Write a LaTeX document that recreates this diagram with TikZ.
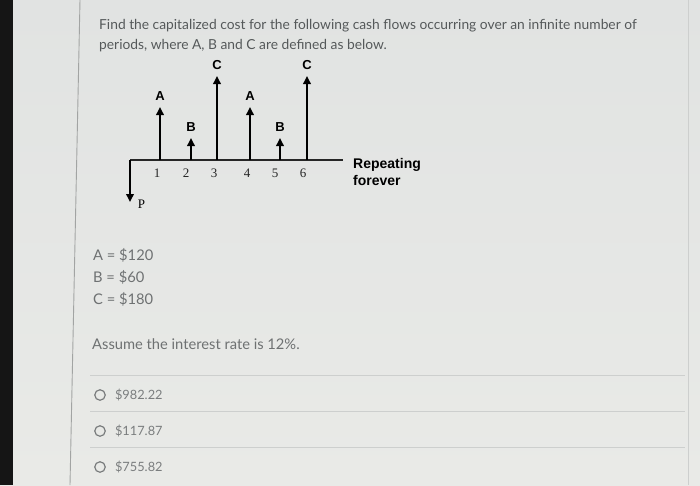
\documentclass[tikz,border=0pt]{standalone}
\usepackage{fontspec}
\setmainfont{Lato}
\newfontfamily\diagfont{Liberation Sans}
\newfontfamily\numfont{Liberation Serif}
\usetikzlibrary{arrows.meta,positioning}

\definecolor{screenbg}{HTML}{E1E3E2}
\definecolor{screenlow}{HTML}{E9EAE7}
\definecolor{bezel}{HTML}{151515}
\definecolor{divider}{HTML}{A2A4A3}
\definecolor{qgrey}{HTML}{55595A}
\definecolor{vargrey}{HTML}{6E7172}
\definecolor{optgrey}{HTML}{7A7D7E}
\definecolor{rulegrey}{HTML}{CDCFCE}

\begin{document}
\begin{tikzpicture}[x=1pt,y=-1pt,
	qtext/.style={anchor=base west,inner sep=0pt,text=qgrey,font=\fontsize{13.8}{16}\selectfont},
	vartext/.style={anchor=base west,inner sep=0pt,text=vargrey,font=\fontsize{14.7}{16}\selectfont},
	flow/.style={-{Triangle[length=8pt,width=7.5pt]},line width=1.8pt},
	letter/.style={font=\diagfont\bfseries\fontsize{13}{13}\selectfont,inner sep=1pt},
	period/.style={font=\numfont\fontsize{13}{13}\selectfont,text=black!85,inner sep=0pt},
	radio/.style={circle,draw=optgrey,line width=1.2pt,minimum size=10.5pt,inner sep=0pt},
	answer/.style={anchor=west,inner sep=0pt,text=optgrey,font=\fontsize{12.8}{14}\selectfont},
	rule/.style={draw=rulegrey,line width=1pt}]

	\useasboundingbox (0,0) rectangle (700,485);
	\shade[top color=screenbg,bottom color=screenlow] (0,0) rectangle (700,485);
	\fill[bezel] (0,0) rectangle (13,485);
	\draw[divider,line width=0.9pt] (80,0) -- (70,485);
	\draw[rulegrey,line width=0.8pt] (688,0) -- (688,485);

	% question
	\node[qtext] (line1) at (99,29) {Find the capitalized cost for the following cash flows occurring over an infinite number of};
	\node[qtext] (line2) at (99,49) {periods, where A, B and C are defined as below.};

	% cash flow diagram
	\coordinate (origin) at (130,160);
	\coordinate (axisend) at (343,160);
	\coordinate (tipP) at (130,202);
	\draw[line width=1.6pt,black!85] (origin) -- (axisend);
	\draw[flow] (origin) -- (tipP);
	\node[font=\numfont\fontsize{13}{13}\selectfont,inner sep=0pt] (P) at (141.5,204.5) {P};

	\coordinate (f1) at (160,160); \coordinate (t1) at (160,107);
	\coordinate (f2) at (191,160); \coordinate (t2) at (191,138);
	\coordinate (f3) at (217,160); \coordinate (t3) at (217,76);
	\coordinate (f4) at (250,160); \coordinate (t4) at (250,107);
	\coordinate (f5) at (280,160); \coordinate (t5) at (280,138);
	\coordinate (f6) at (307,160); \coordinate (t6) at (307,76);

	\draw[flow] (f1) -- (t1);
	\draw[flow] (f2) -- (t2);
	\draw[flow] (f3) -- (t3);
	\draw[flow] (f4) -- (t4);
	\draw[flow] (f5) -- (t5);
	\draw[flow] (f6) -- (t6);

	\node[letter, above = 5pt of t1] (A1) {A};
	\node[letter, above = 5pt of t2] (B1) {B};
	\node[letter, above = 5pt of t3] (C1) {C};
	\node[letter, above = 5pt of t4] (A2) {A};
	\node[letter, above = 5pt of t5] (B2) {B};
	\node[letter, above = 5pt of t6] (C2) {C};

	\node[period] (n1) at (157,173) {1};
	\node[period] (n2) at (186,173) {2};
	\node[period] (n3) at (214,173) {3};
	\node[period] (n4) at (247,173) {4};
	\node[period] (n5) at (275,173) {5};
	\node[period] (n6) at (303,173) {6};

	\node[anchor=west,align=left,inner sep=0pt,font=\diagfont\bfseries\fontsize{14}{17}\selectfont] (repeat) at (353,171.5) {Repeating\\forever};

	% values
	\node[vartext] (valA) at (93,260) {A = \$120};
	\node[vartext] (valB) at (93,282) {B = \$60};
	\node[vartext] (valC) at (93,304) {C = \$180};
	\node[vartext] (rate) at (92,349) {Assume the interest rate is 12\%.};

	% answer choices
	\draw[rule] (90,375.5) -- (685,375.5);
	\draw[rule] (90,411.5) -- (685,411.5);
	\draw[rule] (90,447) -- (685,447);

	\node[radio] (r1) at (100,395) {};
	\node[answer, right = 9pt of r1] (opt1) {\$982.22};
	\node[radio] (r2) at (100,431) {};
	\node[answer, right = 9pt of r2] (opt2) {\$117.87};
	\node[radio] (r3) at (100,467) {};
	\node[answer, right = 9pt of r3] (opt3) {\$755.82};

\end{tikzpicture}
\end{document}
